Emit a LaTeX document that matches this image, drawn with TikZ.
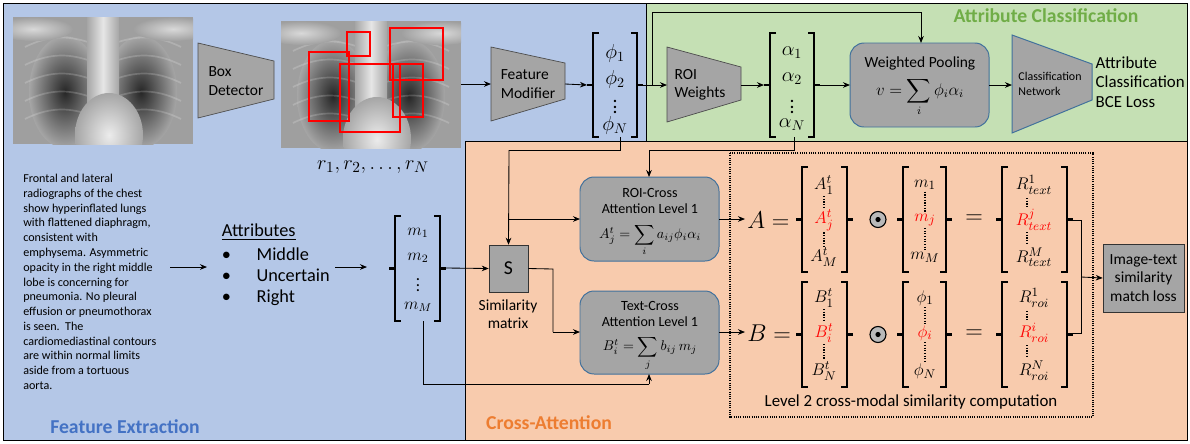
\documentclass[tikz,border=0pt]{standalone}
\usepackage{fontspec}
\setmainfont{Carlito}
\usepackage{amsmath}
\usetikzlibrary{arrows.meta}
\definecolor{bluebg}{HTML}{B4C7E7}
\definecolor{greenbg}{HTML}{C5E0B4}
\definecolor{orangebg}{HTML}{F8CBAD}
\definecolor{boxgray}{HTML}{A5A5A5}
\definecolor{edgeblue}{HTML}{41719C}
\definecolor{ttlgreen}{HTML}{70AD47}
\definecolor{ttlblue}{HTML}{4472C4}
\definecolor{ttlorange}{HTML}{ED7D31}

% x-ray picture, 180 x 127 px, top left corner at (#1,#2)
\newcommand\xray[2]{%
  \begin{scope}[shift={(#1,#2)}]
    \clip (0,0) rectangle (180,127);
    \fill[gray!75] (0,0) rectangle (180,127);
    \shade[inner color=black!85, outer color=gray!70] (52,75) ellipse (36 and 56);
    \shade[inner color=black!85, outer color=gray!70] (128,75) ellipse (36 and 56);
    \foreach \r in {30,48,66,84,102}{
      \draw[white,opacity=0.18,line width=1.2pt] (12,\r) .. controls (40,\r-14) and (60,\r-10) .. (78,\r-4);
      \draw[white,opacity=0.18,line width=1.2pt] (168,\r) .. controls (140,\r-14) and (120,\r-10) .. (102,\r-4);}
    \shade[left color=gray!70, right color=gray!70, middle color=gray!20] (74,0) rectangle (106,127);
    \shade[inner color=gray!15, outer color=gray!70] (96,118) ellipse (34 and 42);
    \shade[inner color=gray!30, outer color=gray!75] (20,12) ellipse (40 and 12);
    \shade[inner color=gray!30, outer color=gray!75] (160,12) ellipse (40 and 12);
  \end{scope}}
% column vector brackets with centre ticks
\newcommand\vbrack[4]{%
  \draw[brk] (#1+6,#3) -- (#1,#3) -- (#1,#4) -- (#1+6,#4);
  \draw[brk] (#1,{(#3+#4)/2}) -- (#1-6,{(#3+#4)/2});
  \draw[brk] (#2-6,#3) -- (#2,#3) -- (#2,#4) -- (#2-6,#4);
  \draw[brk] (#2,{(#3+#4)/2}) -- (#2+6,{(#3+#4)/2});}

\begin{document}
\begin{tikzpicture}[x=0.025cm,y=-0.025cm,
  brk/.style={line width=1.8pt},
  arr/.style={-{Stealth[length=5pt,width=4pt]},line width=0.6pt},
  ln/.style={line width=0.6pt},
  trap/.style={fill=boxgray,draw=black!70,line width=0.5pt},
  rbox/.style={rounded corners=10pt,fill=boxgray,draw=edgeblue,line width=0.7pt},
  lbl/.style={font=\fontsize{11}{13}\selectfont,align=left},
  vec/.style={font=\fontsize{14}{16}\selectfont,inner sep=0pt},
  smvec/.style={font=\fontsize{12}{14}\selectfont,inner sep=0pt},
  ttl/.style={font=\fontsize{14}{16}\selectfont\bfseries}]
\useasboundingbox (0,0) rectangle (1190,443);

% regions
\fill[bluebg] (3,3) rectangle (1187,440);
\fill[greenbg] (646,3) rectangle (1187,141);
\fill[orangebg] (465,141) rectangle (1187,440);
\draw[ln] (3,3) rectangle (1187,440);
\draw[ln] (646,3) -- (646,141) (465,141) -- (1187,141) (465,141) -- (465,440);
\node[ttl,text=ttlgreen] (tAC) at (1046,16) {Attribute Classification};
\node[ttl,text=ttlblue] (tFE) at (125,427) {Feature Extraction};
\node[ttl,text=ttlorange] (tCA) at (549,423) {Cross-Attention};

% images
\xray{13}{17}
\xray{281}{21}
\begin{scope}[red,line width=0.9pt]
  \draw (347,32) rectangle (370,56);
  \draw (390,28) rectangle (443,80);
  \draw (309,52) rectangle (349,121);
  \draw (340,64) rectangle (400,132);
  \draw (393,64) rectangle (423,117);
\end{scope}
\node[font=\fontsize{15}{17}\selectfont] (rlab) at (373,167) {$r_1, r_2, \ldots, r_N$};

% box detector
\draw[trap] (198,43) -- (274,61) -- (274,99) -- (198,118) -- cycle;
\node[lbl] (bd) at (236,81) {Box\\Detector};

% feature modifier
\coordinate (img2r) at (461,84);
\draw[trap] (491,47) -- (565,63) -- (565,99) -- (491,121) -- cycle;
\node[lbl] (fm) at (528,84) {Feature\\Modifier};
\coordinate (fmL) at (491,84);
\coordinate (fmR) at (565,84);
\draw[arr] (img2r) -- (fmL);

% phi vector
\vbrack{593}{637}{33}{137}
\node[vec] (phi1) at (615,53) {$\phi_1$};
\node[vec] (phi2) at (615,79) {$\phi_2$};
\node[vec] (phid) at (615,103) {$\boldsymbol{\vdots}$};
\node[vec] (phiN) at (615,125) {$\phi_N$};
\coordinate (phiL) at (587,85);
\coordinate (phiR) at (643,85);
\draw[arr] (fmR) -- (phiL);

% ROI weights
\draw[trap] (667,47) -- (741,67) -- (741,100) -- (667,122) -- cycle;
\node[lbl] (rw) at (700,85) {ROI\\Weights};
\coordinate (rwL) at (667,85);
\coordinate (rwR) at (741,85);
\draw[arr] (phiR) -- (rwL);

% alpha vector
\vbrack{770}{814}{33}{137}
\node[vec] (al1) at (792,53) {$\alpha_1$};
\node[vec] (al2) at (792,79) {$\alpha_2$};
\node[vec] (ald) at (792,103) {$\boldsymbol{\vdots}$};
\node[vec] (alN) at (792,125) {$\alpha_N$};
\coordinate (alL) at (764,85);
\coordinate (alR) at (820,85);
\draw[arr] (rwR) -- (alL);

% weighted pooling
\draw[rbox] (850,43) rectangle (989,127);
\node[lbl] (wp) at (920,63) {Weighted Pooling};
\node[font=\fontsize{12}{14}\selectfont] (wpf) at (920,97) {$v=\displaystyle\sum_i \phi_i\alpha_i$};
\draw[arr] (alR) -- (850,85);
\draw[arr] (652,85) -- (652,12) -- (921,12) -- (921,43);

% classification network
\draw[fill=boxgray,draw=edgeblue,line width=0.7pt] (1012,35) -- (1092,64) -- (1092,100) -- (1012,133) -- cycle;
\node[font=\fontsize{8.5}{10.5}\selectfont,align=left] (cn) at (1050,84) {Classification\\Network};
\draw[arr] (989,85) -- (1012,85);
\node[font=\fontsize{12}{14}\selectfont,align=left,anchor=west,inner sep=1pt] (bce) at (1094,82) {Attribute\\Classification\\BCE Loss};

% report text
\node[font=\fontsize{8.6}{10.5}\selectfont,align=left,anchor=north west,inner sep=0] (rep) at (23,174) {Frontal and lateral\\radiographs of the chest\\show hyperinflated lungs\\with flattened diaphragm,\\consistent with\\emphysema. Asymmetric\\opacity in the right middle\\lobe is concerning for\\pneumonia. No pleural\\effusion or pneumothorax\\is seen.\ \ The\\cardiomediastinal contours\\are within normal limits\\aside from a tortuous\\aorta.};
\coordinate (repR) at (170,267);
\coordinate (attL) at (207,267);
\draw[arr] (repR) -- (attL);
\node[font=\fontsize{13}{15}\selectfont,anchor=west] (att) at (217,232) {\underline{Attributes}};
\node[font=\fontsize{13}{15}\selectfont,anchor=west,align=left] (atl) at (217,277) {\textbullet\hspace{1.4em}Middle\\[0pt]\textbullet\hspace{1.4em}Uncertain\\[0pt]\textbullet\hspace{1.4em}Right};
\coordinate (atR) at (335,267);
\coordinate (mL) at (367,267);
\draw[arr] (atR) -- (mL);

% m vector
\vbrack{395}{440}{216}{321}
\node[smvec] (m1) at (418,233) {$m_1$};
\node[smvec] (m2) at (418,258) {$m_2$};
\node[smvec] (md) at (418,281) {$\boldsymbol{\vdots}$};
\node[smvec] (mM) at (418,307) {$m_M$};

% similarity box
\node[draw=black!80,fill=boxgray,minimum width=39*0.025cm,minimum height=47*0.025cm,inner sep=0,font=\fontsize{14}{16}\selectfont] (S) at (508.5,268.5) {S};
\node[font=\fontsize{11}{13}\selectfont,align=center] (simlab) at (508,314) {Similarity\\matrix};
\draw[arr] (446,268) -- (S.west);

% level 1 boxes
\draw[rbox] (580,177) rectangle (719,261);
\node[font=\fontsize{10}{12}\selectfont,align=center,inner sep=0] (roic) at (650,201) {ROI-Cross\\Attention Level 1};
\node[font=\fontsize{10}{12}\selectfont,inner sep=0] (roif) at (650,240) {$A_j^t=\displaystyle\sum_i a_{ij}\phi_i\alpha_i$};
\draw[rbox] (580,291) rectangle (719,374);
\node[font=\fontsize{10}{12}\selectfont,align=center,inner sep=0] (txtc) at (650,314) {Text-Cross\\Attention Level 1};
\node[font=\fontsize{10}{12}\selectfont,inner sep=0] (txtf) at (650,353) {$B_i^t=\displaystyle\sum_j b_{ij}\,m_j$};

% connectors to level 1
\draw[ln] (620,137) -- (620,150) -- (509,150);
\draw[arr] (509,150) -- (S.north);
\draw[ln] (794,137) -- (794,150) -- (649,150);
\draw[arr] (649,150) -- (649,177);
\draw[arr] (509,219) -- (580,219);
\draw[ln] (S.east) -- (553,269) -- (553,332);
\draw[arr] (553,332) -- (580,332);
\draw[ln] (423,321) -- (423,384) -- (649,384);
\draw[arr] (649,384) -- (649,374);

% level 2
\draw[ln,densely dotted,line width=0.9pt] (730,153) rectangle (1093,417);
\node[font=\fontsize{12}{14}\selectfont] (l2) at (911,402) {Level 2 cross-modal similarity computation};

\draw[arr] (719,219) -- (745,219);
\draw[arr] (719,332) -- (745,332);
\node[font=\fontsize{17}{19}\selectfont,anchor=west,inner sep=0] (Aeq) at (747,220) {$A=$};
\node[font=\fontsize{17}{19}\selectfont,anchor=west,inner sep=0] (Beq) at (747,333) {$B=$};
\foreach \y/\b in {167/272, 282/387}{
  \vbrack{802}{847}{\y}{\b}
  \vbrack{903}{946}{\y}{\b}
  \vbrack{1002}{1067}{\y}{\b}
  \node[font=\fontsize{16}{18}\selectfont] at (974,{(\y+\b)/2}) {$=$};
  \draw[fill=gray!55,line width=0.8pt] (878,{(\y+\b)/2}) circle (8);
  \fill (878,{(\y+\b)/2}) circle (2.6);
}
\begin{scope}[font=\fontsize{13}{15}\selectfont,inner sep=1pt]
  \node (a1) at (824,185) {$A_1^t$};
  \node[red] (aj) at (824,220) {$A_j^t$};
  \node (aM) at (824,257) {$A_M^t$};
  \node (mm1) at (925,185) {$m_1$};
  \node[red] (mmj) at (925,220) {$m_j$};
  \node (mmM) at (925,257) {$m_M$};
  \node (r1) at (1034,185) {$R_{text}^1$};
  \node[red] (rj) at (1034,220) {$R_{text}^j$};
  \node (rM) at (1034,257) {$R_{text}^M$};
  \node (b1) at (824,298) {$B_1^t$};
  \node[red] (bi) at (824,333) {$B_i^t$};
  \node (bN) at (824,371) {$B_N^t$};
  \node (p1) at (925,298) {$\phi_1$};
  \node[red] (pi) at (925,333) {$\phi_i$};
  \node (pN) at (925,371) {$\phi_N$};
  \node (s1) at (1034,298) {$R_{roi}^1$};
  \node[red] (si) at (1034,333) {$R_{roi}^i$};
  \node (sN) at (1034,371) {$R_{roi}^N$};
\end{scope}
\foreach \u/\v in {a1/aj,aj/aM,mm1/mmj,mmj/mmM,b1/bi,bi/bN,p1/pi,pi/pN}
  \draw[densely dotted,line width=0.9pt] (\u.south) -- (\v.north);
\draw[densely dotted,line width=0.9pt] (1027,198) -- (1027,208) (1027,232) -- (1027,244)
  (1027,311) -- (1027,321) (1027,345) -- (1027,358);

% image-text loss
\node[draw=black!80,fill=boxgray,minimum width=81*0.025cm,minimum height=68*0.025cm,inner sep=1pt,align=center,font=\fontsize{11}{13}\selectfont] (itl) at (1143.5,278) {Image-text\\similarity\\match loss};
\draw[ln] (1073,220) -- (1081,220) -- (1081,333) -- (1073,333);
\draw[arr] (1081,277) -- (itl.west);
\end{tikzpicture}
\end{document}
